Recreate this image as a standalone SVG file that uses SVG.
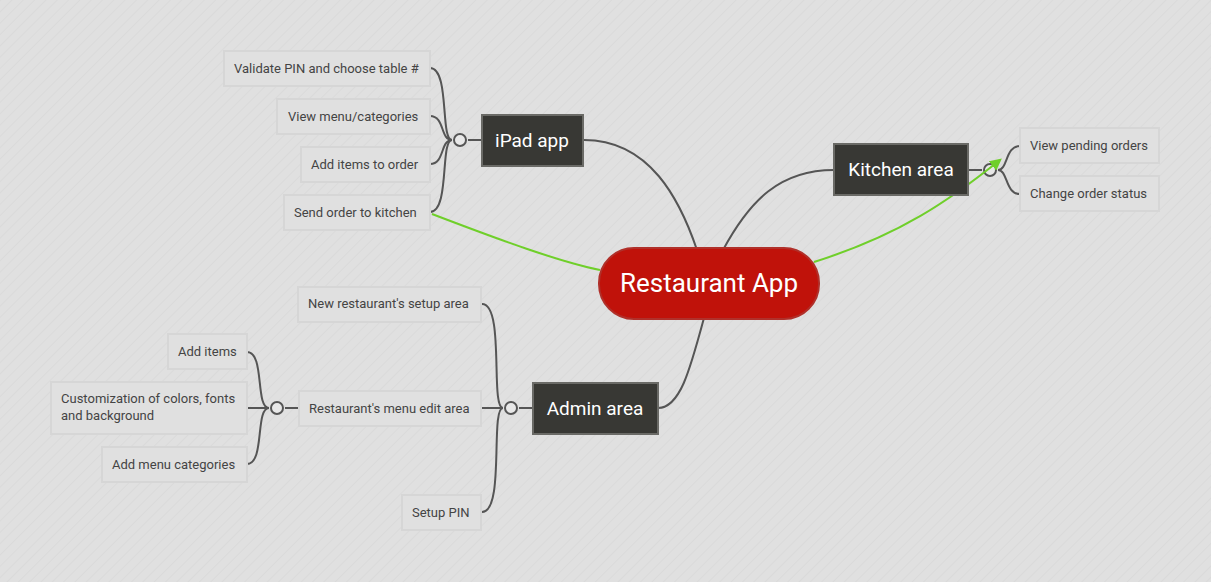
<svg xmlns="http://www.w3.org/2000/svg" width="1211" height="582" viewBox="0 0 1211 582">
<defs>
<pattern id="bg" width="8" height="8" patternUnits="userSpaceOnUse" patternTransform="rotate(-45)"><rect width="8" height="8" fill="#e0e0e0"/><rect width="8" height="1" fill="#dadada"/></pattern>
<marker id="ga" viewBox="0 0 10 10" refX="8" refY="5" markerWidth="6" markerHeight="6" orient="auto"><path d="M0,0 L10,5 L0,10 z" fill="#6fcf2a"/></marker>
<style>
.l{fill:none;stroke:#555;stroke-width:2}
.g{fill:none;stroke:#6fcf2a;stroke-width:2}
.c{fill:#e8e8e8;stroke:#555;stroke-width:2}
.leaf{fill:#e0e0e0;stroke:#d6d6d6;stroke-width:2}
.lt{font-family:Roboto,"Liberation Sans",sans-serif;font-size:13px;fill:#444}
.mb{fill:#383834;stroke:#6a6a66;stroke-width:2}
.mt{font-family:Roboto,"Liberation Sans",sans-serif;font-size:19px;fill:#fff;text-anchor:middle}
</style>
</defs>
<rect width="1211" height="582" fill="url(#bg)"/>
<g id="connectors">
<path class="l" d="M584,140 C650,140 680,200 697,250"/>
<path class="l" d="M723,250 C750,200 780,170 834,170"/>
<path class="l" d="M704,318 C690,370 680,408 658,408"/>
<path class="l" d="M482,140 H468"/>
<path class="l" d="M452,140 C440,140 450,68 430,68"/>
<path class="l" d="M452,140 C440,140 445,116 430,116"/>
<path class="l" d="M452,140 C440,140 445,164 430,164"/>
<path class="l" d="M452,140 C440,140 450,212 430,212"/>
<path class="l" d="M968,170 H982"/>
<path class="l" d="M998,170 C1008,170 1005,146 1020,146"/>
<path class="l" d="M998,170 C1008,170 1005,194 1020,194"/>
<path class="l" d="M533,408 H519"/>
<path class="l" d="M503,408 C490,408 505,304 482,304"/>
<path class="l" d="M503,408 H482"/>
<path class="l" d="M503,408 C490,408 505,512 482,512"/>
<path class="l" d="M299,408 H285"/>
<path class="l" d="M269,408 C255,408 265,352 247,352"/>
<path class="l" d="M269,408 H247"/>
<path class="l" d="M269,408 C255,408 265,464 247,464"/>
<circle class="c" cx="460" cy="140" r="6"/>
<circle class="c" cx="990" cy="170" r="6"/>
<circle class="c" cx="511" cy="408" r="6"/>
<circle class="c" cx="277" cy="408" r="6"/>
<path class="g" d="M432,214 C500,240 560,262 600,270"/>
<path class="g" d="M814,262 C900,235 950,200 1000,160" marker-end="url(#ga)"/>
</g>
<g id="root"><rect x="599" y="248" width="220" height="71" rx="35" fill="#c0120a" stroke="#b0302a" stroke-width="2"/><text x="709" y="292" font-family="Roboto,'Liberation Sans',sans-serif" font-size="26" fill="#fff" text-anchor="middle">Restaurant App</text></g>
<g id="ipad"><rect class="mb" x="482" y="115" width="101" height="51"/><text class="mt" x="532" y="147">iPad app</text></g>
<g id="kitchen"><rect class="mb" x="834" y="144" width="134" height="51"/><text class="mt" x="901" y="176">Kitchen area</text></g>
<g id="admin"><rect class="mb" x="533" y="383" width="125" height="51"/><text class="mt" x="595" y="415">Admin area</text></g>
<g id="n1"><rect class="leaf" x="224" y="51" width="206" height="35"/><text class="lt" x="234" y="73">Validate PIN and choose table #</text></g>
<g id="n2"><rect class="leaf" x="277" y="99" width="153" height="35"/><text class="lt" x="288" y="121">View menu/categories</text></g>
<g id="n3"><rect class="leaf" x="301" y="147" width="129" height="35"/><text class="lt" x="311" y="169">Add items to order</text></g>
<g id="n4"><rect class="leaf" x="284" y="195" width="146" height="35"/><text class="lt" x="294" y="217">Send order to kitchen</text></g>
<g id="k1"><rect class="leaf" x="1020" y="128" width="139" height="35"/><text class="lt" x="1030" y="150">View pending orders</text></g>
<g id="k2"><rect class="leaf" x="1020" y="176" width="139" height="35"/><text class="lt" x="1030" y="198">Change order status</text></g>
<g id="a1"><rect class="leaf" x="298" y="287" width="183" height="35"/><text class="lt" x="308" y="308">New restaurant's setup area</text></g>
<g id="a2"><rect class="leaf" x="299" y="391" width="182" height="35"/><text class="lt" x="309" y="413">Restaurant's menu edit area</text></g>
<g id="a3"><rect class="leaf" x="402" y="495" width="79" height="35"/><text class="lt" x="412" y="517">Setup PIN</text></g>
<g id="m1"><rect class="leaf" x="168" y="334" width="79" height="35"/><text class="lt" x="178" y="356">Add items</text></g>
<g id="m2"><rect class="leaf" x="51" y="382" width="196" height="52"/><text class="lt" x="61" y="403">Customization of colors, fonts</text><text class="lt" x="61" y="420">and background</text></g>
<g id="m3"><rect class="leaf" x="102" y="447" width="145" height="35"/><text class="lt" x="112" y="469">Add menu categories</text></g>
</svg>
